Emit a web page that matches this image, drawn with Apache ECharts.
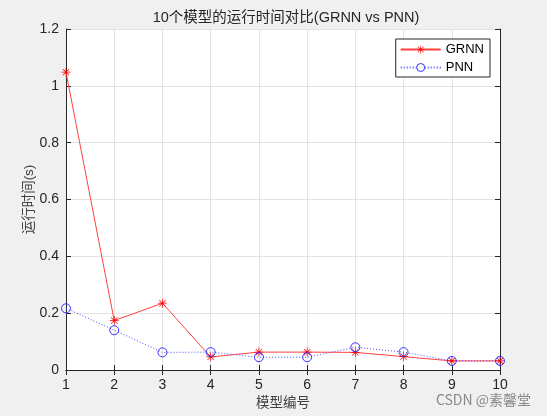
<!DOCTYPE html>
<html>
<head>
<meta charset="utf-8">
<script src="https://cdn.jsdelivr.net/npm/echarts@6/dist/echarts.min.js"></script>
<style>
  html, body { margin: 0; padding: 0; background: #f0f0f0; }
  #main { width: 547px; height: 416px; }
</style>
</head>
<body>
<div id="main"></div>
<script>
// 模型编号 1..10
var modelIds = [1, 2, 3, 4, 5, 6, 7, 8, 9, 10];
// 运行时间 (s)
var grnnTimes = [1.048, 0.174, 0.235, 0.046, 0.063, 0.063, 0.062, 0.047, 0.032, 0.032];
var pnnTimes = [0.217, 0.140, 0.062, 0.063, 0.045, 0.045, 0.080, 0.063, 0.032, 0.032];

var axisColor = '#262626';
var textColor = '#262626';
var fontFamily = 'Arial, "Liberation Sans", "Noto Sans CJK SC", sans-serif';

// 星号 marker
var starPath = 'path://M-0.8,-10L0.8,-10L0.8,10L-0.8,10Z' +
    'M-10,-0.8L10,-0.8L10,0.8L-10,0.8Z' +
    'M-7.6,-6.5L-6.5,-7.6L7.6,6.5L6.5,7.6Z' +
    'M6.5,-7.6L7.6,-6.5L-6.5,7.6L-7.6,6.5Z';

function pairs(ys) {
    var out = [];
    for (var i = 0; i < modelIds.length; i++) {
        out.push([modelIds[i], ys[i]]);
    }
    return out;
}

var myChart = echarts.init(document.getElementById('main'), null, {renderer: 'canvas'});

var option = {
    backgroundColor: '#f0f0f0',
    animation: false,
    textStyle: {fontFamily: fontFamily},
    title: {
        text: '10个模型的运行时间对比(GRNN vs PNN)',
        left: 281,
        textAlign: 'center',
        top: 6,
        textStyle: {fontSize: 14.5, fontWeight: 'normal', color: textColor, fontFamily: fontFamily}
    },
    legend: {
        right: 57,
        top: 39,
        orient: 'vertical',
        itemWidth: 40,
        itemHeight: 10,
        itemGap: 5,
        padding: [4, 6, 3, 4],
        backgroundColor: '#ffffff',
        borderColor: axisColor,
        borderWidth: 1,
        borderRadius: 0,
        textStyle: {fontSize: 13, color: '#000', fontFamily: fontFamily},
        data: [
            {name: 'GRNN'},
            {name: 'PNN', itemStyle: {borderWidth: 1, borderColor: '#3333ff', color: '#ffffff'}}
        ]
    },
    grid: {
        left: 66,
        right: 47,
        top: 29,
        bottom: 46,
        show: true,
        backgroundColor: '#ffffff',
        borderWidth: 0
    },
    xAxis: [{
        type: 'value',
        min: 1,
        max: 10,
        interval: 1,
        name: '模型编号',
        nameLocation: 'middle',
        nameGap: 27,
        nameTextStyle: {fontSize: 13.5, color: '#404040'},
        axisLine: {show: true, lineStyle: {color: axisColor, width: 1}},
        axisTick: {show: true, inside: true, length: 5, lineStyle: {color: axisColor}},
        axisLabel: {fontSize: 14, color: textColor, margin: 8},
        splitLine: {show: true, lineStyle: {color: '#e3e3e3', width: 1}}
    }, {
        type: 'value',
        position: 'top',
        min: 1,
        max: 10,
        interval: 1,
        axisLine: {show: true, lineStyle: {color: axisColor, width: 1}},
        axisTick: {show: true, inside: true, length: 5, lineStyle: {color: axisColor}},
        axisLabel: {show: false},
        splitLine: {show: false}
    }],
    yAxis: [{
        type: 'value',
        min: 0,
        max: 1.2,
        interval: 0.2,
        name: '运行时间(s)',
        nameLocation: 'middle',
        nameGap: 30,
        nameMoveOverlap: false,
        nameTextStyle: {fontSize: 13.5, color: '#404040'},
        axisLine: {show: true, lineStyle: {color: axisColor, width: 1}},
        axisTick: {show: true, inside: true, length: 5, lineStyle: {color: axisColor}},
        axisLabel: {fontSize: 14, color: textColor, margin: 7},
        splitLine: {show: true, lineStyle: {color: '#e3e3e3', width: 1}}
    }, {
        type: 'value',
        position: 'right',
        min: 0,
        max: 1.2,
        interval: 0.2,
        axisLine: {show: true, lineStyle: {color: axisColor, width: 1}},
        axisTick: {show: true, inside: true, length: 5, lineStyle: {color: axisColor}},
        axisLabel: {show: false},
        splitLine: {show: false}
    }],
    series: [{
        name: 'GRNN',
        type: 'line',
        data: pairs(grnnTimes),
        symbol: starPath,
        symbolSize: 9,
        showAllSymbol: true,
        lineStyle: {color: '#ff4040', width: 1},
        itemStyle: {color: '#ff0000', borderWidth: 0}
    }, {
        name: 'PNN',
        type: 'line',
        data: pairs(pnnTimes),
        symbol: 'circle',
        symbolSize: 9,
        showAllSymbol: true,
        lineStyle: {color: '#4d4dff', width: 1, type: [1, 2]},
        itemStyle: {color: 'rgba(255,255,255,0)', borderColor: '#3333ff', borderWidth: 1}
    }],
    graphic: [{
        type: 'text',
        right: 16,
        bottom: 9,
        style: {
            text: 'CSDN @素馨堂',
            fill: '#8a8a8a',
            font: '14px "Noto Sans CJK SC", Arial, sans-serif'
        }
    }]
};

myChart.setOption(option);
</script>
</body>
</html>
